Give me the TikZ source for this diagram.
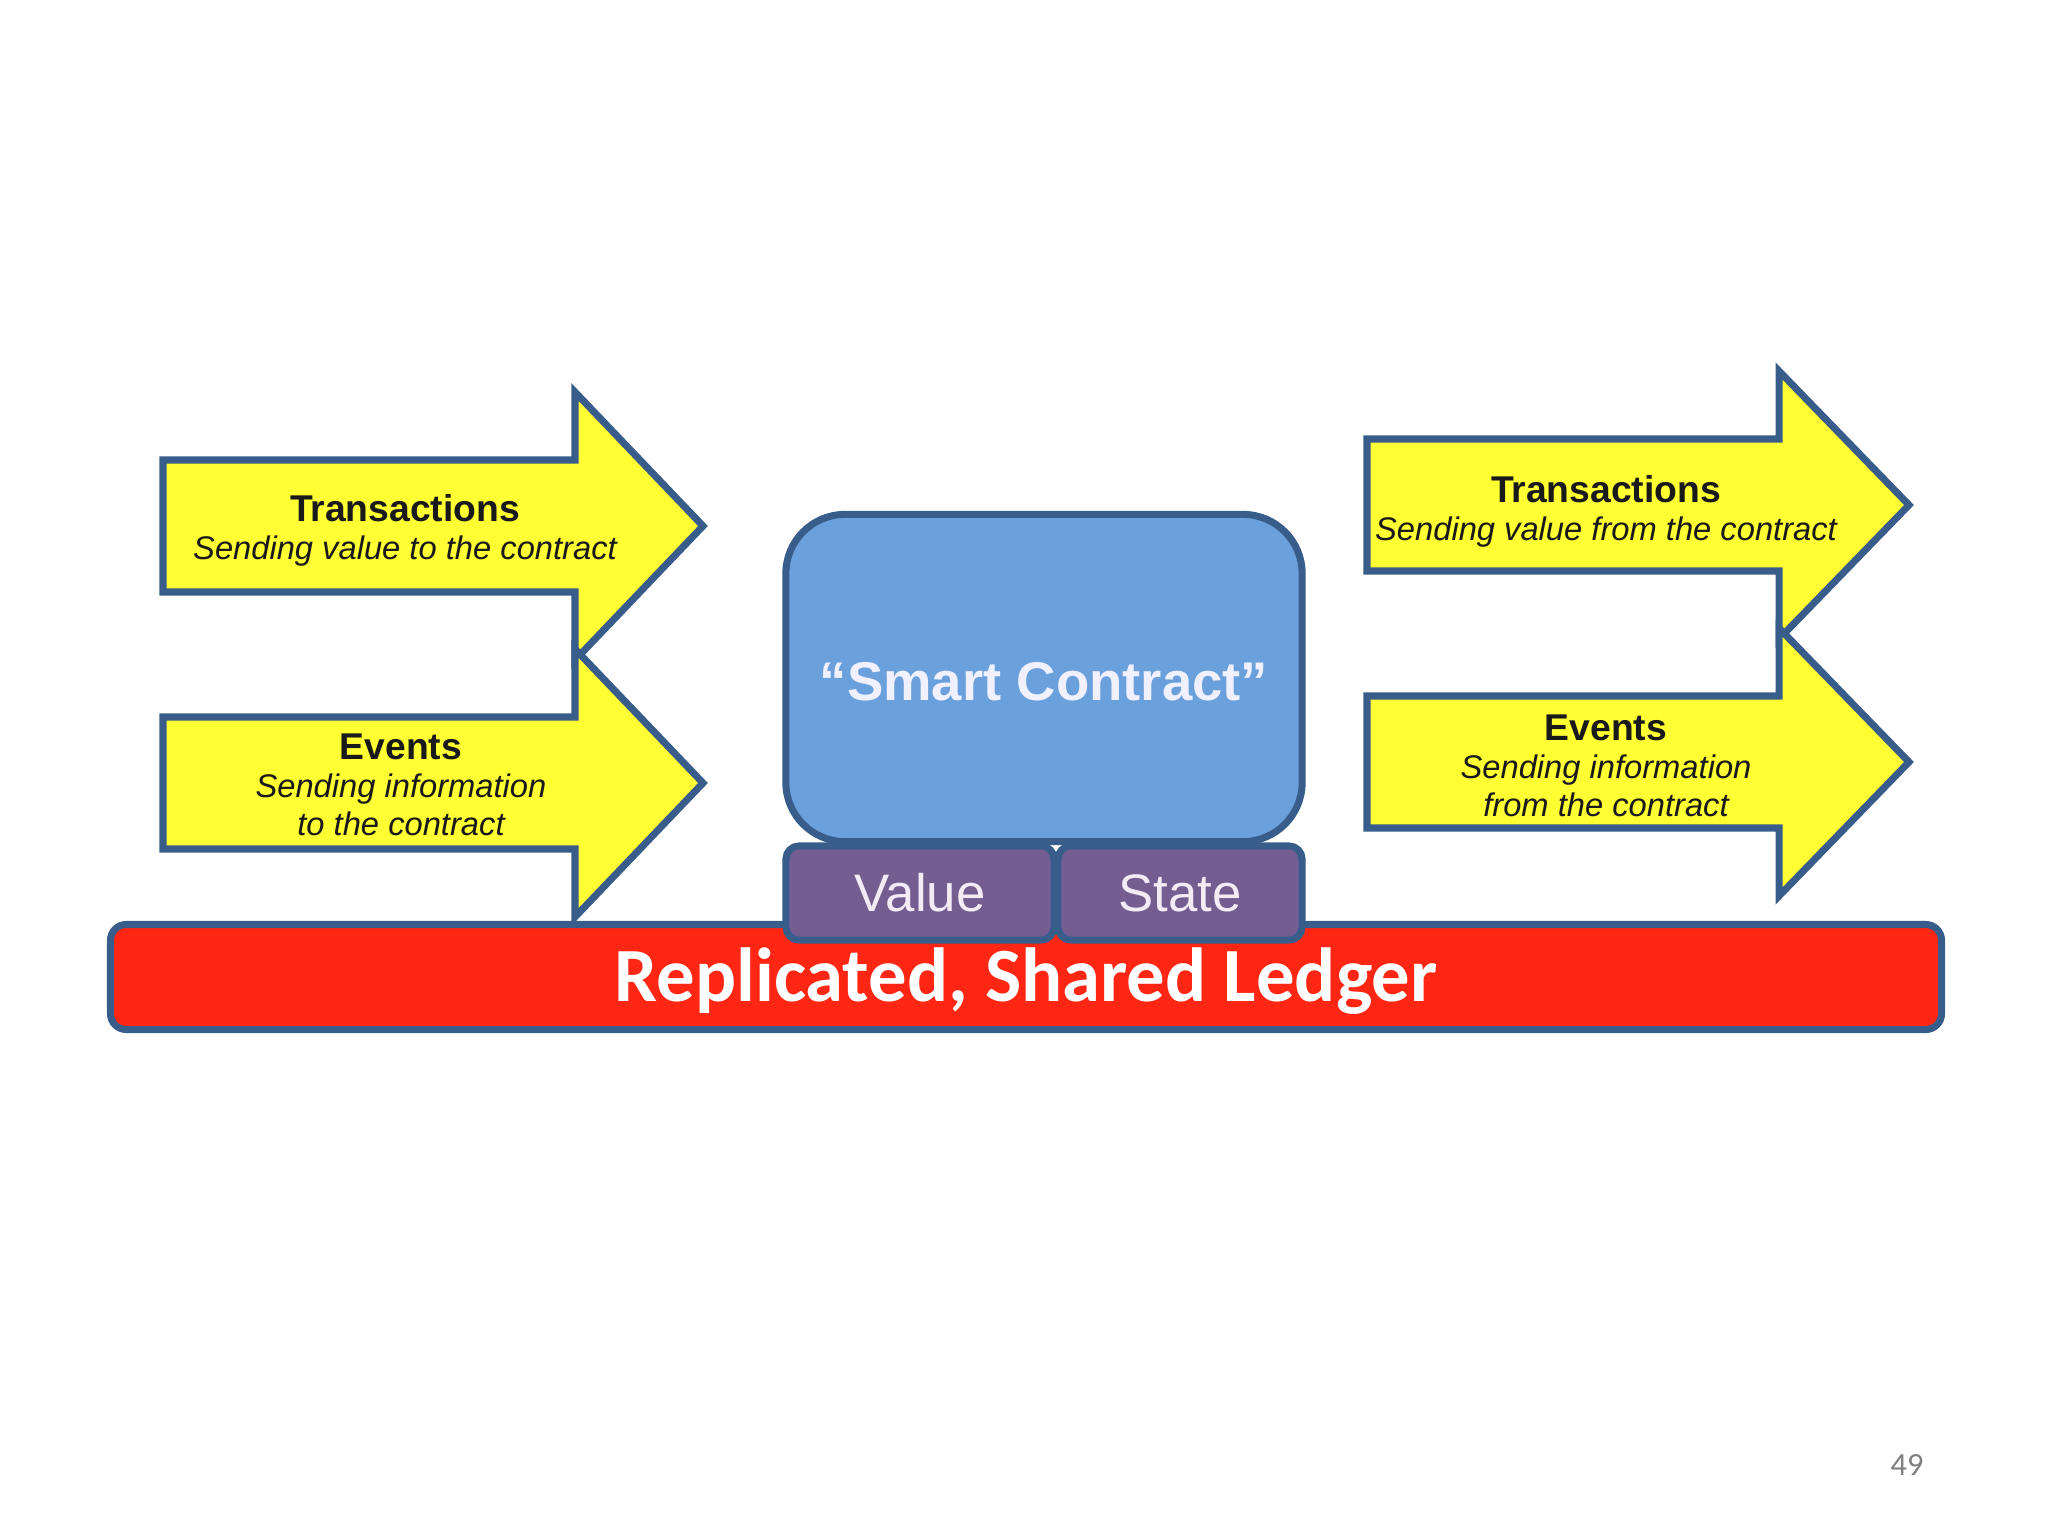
\documentclass[tikz,border=0pt]{standalone}
\usepackage{fontspec}
\setmainfont{Liberation Sans}
\newfontfamily\ledgerfont{Carlito}
\usepackage{tikz}

\definecolor{edgeblue}{RGB}{56,93,138}
\definecolor{arrowyellow}{RGB}{255,255,51}
\definecolor{contractblue}{RGB}{106,160,220}
\definecolor{slotpurple}{RGB}{116,94,145}
\definecolor{ledgerred}{RGB}{255,38,20}
\definecolor{pagegray}{RGB}{128,128,128}

% fat arrow: left x, head base x, tip x, centre y
\newcommand{\fatarrow}[4]{%
  \draw[arrowbody] (#1,#4-66) -- (#2,#4-66) -- (#2,#4-134) -- (#3,#4)
    -- (#2,#4+134) -- (#2,#4+66) -- (#1,#4+66) -- cycle;}
\newcommand{\arrowtitle}[1]{{\fontsize{10.6}{10.8}\selectfont\bfseries\upshape #1}}

\begin{document}
\begin{tikzpicture}[x=0.01cm,y=-0.01cm,
  arrowbody/.style={draw=edgeblue,line width=2pt,fill=arrowyellow,line join=miter},
  arrowtext/.style={align=center,text=black!90,font=\fontsize{9.3}{10.8}\selectfont\itshape},
  block/.style={draw=edgeblue,line width=2pt,inner sep=0pt},
  slot/.style={block,fill=slotpurple,rounded corners=3.7pt,text=white!92!violet,
    minimum height=0.94cm,font=\fontsize{15}{18}\selectfont}]
\useasboundingbox (0,0) rectangle (2048,1536);

% arrows into the contract
\fatarrow{163}{575}{703}{526}
\fatarrow{163}{575}{703}{783}
% arrows out of the contract
\fatarrow{1367}{1779}{1909}{505}
\fatarrow{1367}{1779}{1909}{762}

\node[arrowtext] (txin) at (405,530) {\arrowtitle{Transactions}\\Sending value to the contract};
\node[arrowtext] (evin) at (401,785) {\arrowtitle{Events}\\Sending information\\to the contract};
\node[arrowtext] (txout) at (1606,511) {\arrowtitle{Transactions}\\Sending value from the contract};
\node[arrowtext] (evout) at (1606,766) {\arrowtitle{Events}\\Sending information\\from the contract};

\node[block,fill=ledgerred,rounded corners=4.5pt,minimum width=18.3cm,minimum height=1.05cm,
  text=white,font=\ledgerfont\bfseries\fontsize{21.8}{26}\selectfont] (ledger) at (1026,977) {};
\node[text=white,font=\ledgerfont\bfseries\fontsize{21.8}{26}\selectfont] (ledgertext)
  at ([yshift=-0.04cm]ledger.center) {Replicated, Shared Ledger};
\node[slot,minimum width=2.68cm] (value) at (920,893) {Value};
\node[slot,minimum width=2.44cm] (state) at (1180,893) {State};
\node[block,fill=contractblue,rounded corners=16.8pt,minimum width=5.16cm,minimum height=3.27cm,
  text=white!94!blue,font=\fontsize{15.5}{18}\selectfont\bfseries] (contract) at (1044,678) {};
\node[text=white!94!blue,font=\fontsize{15.5}{18}\selectfont\bfseries] (contracttext)
  at ([yshift=-0.04cm]contract.center) {“Smart Contract”};

\node[text=pagegray,font=\ledgerfont\fontsize{9.2}{11}\selectfont] (pageno) at (1907,1465) {49};
\end{tikzpicture}
\end{document}
